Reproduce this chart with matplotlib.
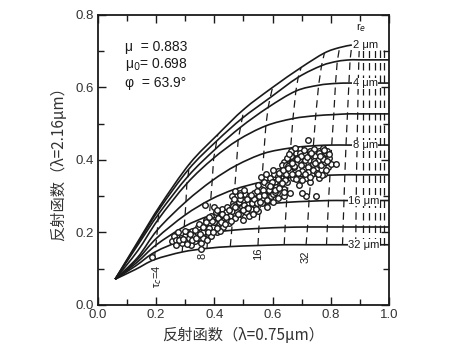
import matplotlib
matplotlib.use("Agg")
import matplotlib.pyplot as plt
from matplotlib.ticker import MultipleLocator
from matplotlib.path import Path
from matplotlib.patches import PathPatch

# ---------------- data ----------------
# effective radius of each constant-r_e curve (um)
re_values = [32, 24, 16, 12, 8, 6, 4, 3, 2]
# optical thickness of each column of grid nodes
tau_values = [0, 2, 4, 6, 8, 12, 16, 24, 32, 48, 64, 96]

# x: reflection function at 0.75 um, one row per r_e, one column per tau
grid_x = [
    [0.06, 0.130, 0.195, 0.290, 0.375, 0.455, 0.550, 0.640, 0.715, 0.785, 0.840, 0.885],
    [0.06, 0.131, 0.197, 0.293, 0.379, 0.460, 0.553, 0.643, 0.720, 0.788, 0.842, 0.886],
    [0.06, 0.133, 0.200, 0.297, 0.383, 0.465, 0.558, 0.648, 0.725, 0.792, 0.845, 0.887],
    [0.06, 0.135, 0.202, 0.300, 0.388, 0.470, 0.563, 0.655, 0.732, 0.797, 0.848, 0.888],
    [0.06, 0.137, 0.205, 0.303, 0.393, 0.476, 0.570, 0.662, 0.740, 0.803, 0.852, 0.890],
    [0.06, 0.138, 0.207, 0.306, 0.398, 0.482, 0.577, 0.670, 0.748, 0.810, 0.857, 0.892],
    [0.06, 0.140, 0.210, 0.310, 0.404, 0.490, 0.585, 0.680, 0.758, 0.816, 0.862, 0.894],
    [0.06, 0.141, 0.212, 0.313, 0.408, 0.496, 0.592, 0.688, 0.768, 0.822, 0.866, 0.896],
    [0.06, 0.142, 0.215, 0.316, 0.412, 0.502, 0.600, 0.698, 0.778, 0.830, 0.872, 0.898],
]
# y: reflection function at 2.16 um
grid_y = [
    [0.071, 0.098, 0.125, 0.146, 0.156, 0.161, 0.164, 0.166, 0.166, 0.166, 0.166, 0.166],
    [0.071, 0.108, 0.146, 0.179, 0.197, 0.206, 0.211, 0.214, 0.215, 0.215, 0.215, 0.215],
    [0.071, 0.116, 0.165, 0.216, 0.246, 0.264, 0.276, 0.283, 0.286, 0.288, 0.288, 0.288],
    [0.071, 0.124, 0.184, 0.248, 0.291, 0.319, 0.339, 0.351, 0.356, 0.358, 0.359, 0.359],
    [0.071, 0.131, 0.207, 0.285, 0.343, 0.385, 0.418, 0.433, 0.439, 0.441, 0.441, 0.441],
    [0.071, 0.150, 0.235, 0.335, 0.405, 0.455, 0.494, 0.514, 0.522, 0.525, 0.527, 0.527],
    [0.071, 0.168, 0.252, 0.355, 0.430, 0.490, 0.545, 0.590, 0.606, 0.611, 0.612, 0.612],
    [0.071, 0.175, 0.265, 0.375, 0.452, 0.515, 0.572, 0.628, 0.660, 0.672, 0.676, 0.676],
    [0.071, 0.180, 0.275, 0.390, 0.470, 0.540, 0.600, 0.655, 0.695, 0.710, 0.717, 0.717],
]
# additional near-vertical constant-tau lines of very thick clouds (x positions)
thick_tau_x = [0.910, 0.930, 0.950, 0.967, 0.982]

# observations (x = R0.75, y = R2.16)
obs_x = [
    0.185, 0.255, 0.262, 0.270, 0.275, 0.268, 0.290, 0.300, 0.305, 0.310, 0.315, 0.320,
    0.325, 0.330, 0.335, 0.340, 0.345, 0.350, 0.355, 0.368, 0.356, 0.285, 0.298,
    0.360, 0.365, 0.370, 0.375, 0.380, 0.385, 0.390, 0.395, 0.400, 0.405, 0.410, 0.415,
    0.420, 0.425, 0.430, 0.435, 0.440, 0.445, 0.450, 0.455, 0.360, 0.375, 0.390, 0.420,
    0.400, 0.372, 0.383, 0.398, 0.412, 0.428, 0.443,
    0.460, 0.465, 0.470, 0.475, 0.480, 0.485, 0.490, 0.495, 0.500, 0.505, 0.510, 0.515,
    0.520, 0.525, 0.530, 0.535, 0.540, 0.545, 0.550, 0.460, 0.470, 0.500, 0.520, 0.490,
    0.463, 0.478, 0.488, 0.503, 0.512, 0.528, 0.538, 0.548,
    0.555, 0.560, 0.565, 0.570, 0.575, 0.580, 0.585, 0.590, 0.595, 0.600, 0.605, 0.610,
    0.615, 0.620, 0.625, 0.630, 0.635, 0.640, 0.645, 0.650, 0.580, 0.600, 0.620, 0.640,
    0.660, 0.550, 0.568, 0.588, 0.598, 0.612, 0.628, 0.642, 0.618, 0.603,
    0.655, 0.660, 0.665, 0.670, 0.675, 0.680, 0.685, 0.690, 0.695, 0.700, 0.705, 0.710,
    0.715, 0.720, 0.725, 0.730, 0.735, 0.740, 0.745, 0.750, 0.755, 0.760, 0.765, 0.770,
    0.775, 0.780, 0.785, 0.790, 0.795, 0.800, 0.720, 0.818, 0.716, 0.750, 0.690, 0.700,
    0.730, 0.760, 0.640, 0.650, 0.668, 0.683, 0.698, 0.712, 0.728, 0.742, 0.758, 0.772,
    0.788, 0.662, 0.678, 0.693, 0.708, 0.722, 0.738, 0.752, 0.768, 0.782, 0.633, 0.647,
    0.280, 0.292, 0.308, 0.322, 0.338, 0.352, 0.318, 0.333, 0.347, 0.362, 0.378, 0.393,
    0.408, 0.423, 0.437, 0.452, 0.382, 0.396, 0.411, 0.426, 0.440, 0.456, 0.467, 0.482,
    0.497, 0.513, 0.527, 0.542, 0.472, 0.487, 0.502, 0.517, 0.532, 0.547, 0.557, 0.572,
    0.587, 0.602, 0.617, 0.632, 0.562, 0.577, 0.592, 0.607, 0.622, 0.637, 0.652, 0.667,
    0.682, 0.697, 0.712, 0.727, 0.742, 0.757, 0.772, 0.787, 0.657, 0.672, 0.687, 0.702,
    0.717, 0.732, 0.747, 0.762, 0.777, 0.792, 0.608, 0.623, 0.638, 0.653, 0.668, 0.683,
]
obs_y = [
    0.133, 0.175, 0.190, 0.180, 0.200, 0.165, 0.170, 0.190, 0.175, 0.200, 0.185, 0.165,
    0.205, 0.190, 0.175, 0.200, 0.215, 0.185, 0.170, 0.276, 0.155, 0.185, 0.205,
    0.200, 0.220, 0.235, 0.210, 0.195, 0.225, 0.245, 0.215, 0.235, 0.255, 0.200, 0.225,
    0.245, 0.265, 0.215, 0.235, 0.255, 0.270, 0.225, 0.245, 0.185, 0.180, 0.190, 0.205,
    0.270, 0.228, 0.212, 0.228, 0.240, 0.250, 0.238,
    0.260, 0.280, 0.240, 0.300, 0.265, 0.285, 0.250, 0.270, 0.290, 0.305, 0.255, 0.280,
    0.300, 0.265, 0.290, 0.310, 0.275, 0.295, 0.260, 0.300, 0.315, 0.235, 0.245, 0.310,
    0.272, 0.255, 0.292, 0.275, 0.268, 0.280, 0.292, 0.282,
    0.300, 0.320, 0.280, 0.340, 0.310, 0.290, 0.330, 0.350, 0.300, 0.320, 0.360, 0.340,
    0.310, 0.370, 0.330, 0.350, 0.380, 0.320, 0.360, 0.340, 0.270, 0.285, 0.295, 0.300,
    0.310, 0.330, 0.318, 0.315, 0.338, 0.325, 0.342, 0.345, 0.355, 0.372,
    0.390, 0.370, 0.410, 0.350, 0.380, 0.420, 0.360, 0.400, 0.430, 0.370, 0.390, 0.415,
    0.350, 0.380, 0.400, 0.425, 0.360, 0.390, 0.410, 0.375, 0.400, 0.425, 0.385, 0.410,
    0.360, 0.395, 0.420, 0.380, 0.405, 0.390, 0.455, 0.388, 0.300, 0.300, 0.330, 0.310,
    0.340, 0.350, 0.395, 0.405, 0.395, 0.405, 0.385, 0.400, 0.415, 0.430, 0.418, 0.432,
    0.425, 0.425, 0.432, 0.418, 0.428, 0.368, 0.372, 0.365, 0.358, 0.372, 0.385, 0.385,
    0.178, 0.182, 0.168, 0.178, 0.185, 0.195, 0.195, 0.208, 0.222, 0.215, 0.202, 0.232,
    0.212, 0.228, 0.222, 0.262, 0.242, 0.202, 0.262, 0.252, 0.242, 0.232, 0.292, 0.252,
    0.262, 0.292, 0.302, 0.265, 0.270, 0.302, 0.318, 0.268, 0.252, 0.315, 0.285, 0.302,
    0.318, 0.305, 0.348, 0.335, 0.352, 0.362, 0.328, 0.312, 0.365, 0.372, 0.382, 0.362,
    0.348, 0.412, 0.362, 0.352, 0.398, 0.362, 0.402, 0.398, 0.415, 0.382, 0.365, 0.345,
    0.408, 0.418, 0.392, 0.412, 0.428, 0.415, 0.318, 0.322, 0.312, 0.378, 0.392, 0.402,
]

param_lines = ["μ  = 0.883", "μ$_0$= 0.698", "φ  = 63.9°"]
re_labels = {2: "2 μm", 4: "4 μm", 8: "8 μm", 16: "16 μm", 32: "32 μm"}
tau_labels = {4: "τ$_c$=4", 8: "8", 16: "16", 32: "32"}

# ---------------- figure ----------------
plt.rcParams['font.family'] = ['Liberation Sans', 'DejaVu Sans']
fig = plt.figure(figsize=(4.74, 3.55), dpi=100)
ax = fig.add_axes([0.206, 0.141, 0.615, 0.817])
ax.set_xlim(0, 1.0)
ax.set_ylim(0, 0.8)

lc = '#1a1a1a'


def smooth_path(xs, ys):
    """Cubic Bezier path through the given nodes (Catmull-Rom tangents)."""
    pts = list(zip(xs, ys))
    verts = [pts[0]]
    codes = [Path.MOVETO]
    n = len(pts)
    for k in range(n - 1):
        p0 = pts[k - 1] if k > 0 else pts[k]
        p1 = pts[k]
        p2 = pts[k + 1]
        p3 = pts[k + 2] if k + 2 < n else pts[k + 1]
        c1 = (p1[0] + (p2[0] - p0[0]) / 6.0, p1[1] + (p2[1] - p0[1]) / 6.0)
        c2 = (p2[0] - (p3[0] - p1[0]) / 6.0, p2[1] - (p3[1] - p1[1]) / 6.0)
        verts += [c1, c2, p2]
        codes += [Path.CURVE4] * 3
    return Path(verts, codes)


# constant r_e curves (solid), extend horizontally to the right edge
for i, re in enumerate(re_values):
    xs = list(grid_x[i])
    ys = list(grid_y[i])
    if re == 2:
        xs = xs[:-1]
        ys = ys[:-1]
    else:
        xs = xs + [1.0]
        ys = ys + [ys[-1]]
    ax.add_patch(PathPatch(smooth_path(xs, ys), fc='none', ec=lc, lw=1.2, zorder=3))

# constant tau lines (dashed)
for j, tau in enumerate(tau_values):
    if tau < 4:
        continue
    xs = [grid_x[i][j] for i in range(len(re_values))]
    ys = [grid_y[i][j] for i in range(len(re_values))]
    ax.plot(xs, ys, color=lc, lw=0.9, ls=(0, (6, 4)), zorder=2)
top_y = grid_y[-1][-1]
bot_y = grid_y[0][-1]
for xv in thick_tau_x:
    ax.plot([xv, xv], [bot_y, top_y], color=lc, lw=0.9, ls=(0, (6, 4)), zorder=2)

# observations
ax.scatter(obs_x, obs_y, s=16, facecolors='white', edgecolors=lc, linewidths=1.0, zorder=4)

# annotations
for k, t in enumerate(param_lines):
    ax.text(0.095, 0.712 - 0.05 * k, t, fontsize=10, va='center', ha='left', color=lc)
ax.text(0.885, 0.766, "r$_e$", fontsize=8, ha='left', va='center', color=lc)
re_label_x = {2: 0.875, 4: 0.875, 8: 0.875, 16: 0.86, 32: 0.86}
for i, re in enumerate(re_values):
    if re in re_labels:
        ax.text(re_label_x[re], grid_y[i][-1], re_labels[re], fontsize=8, ha='left', va='center',
                color=lc, zorder=5,
                bbox=dict(boxstyle='square,pad=0.05', fc='white', ec='none'))
tau_label_pos = {4: (0.205, 0.08), 8: (0.361, 0.135), 16: (0.549, 0.142), 32: (0.714, 0.134)}
for tau, lab in tau_labels.items():
    px, py = tau_label_pos[tau]
    ax.text(px, py, lab, fontsize=8, rotation=90, ha='center', va='center', color=lc)

# axes styling
ax.xaxis.set_major_locator(MultipleLocator(0.2))
ax.xaxis.set_minor_locator(MultipleLocator(0.1))
ax.yaxis.set_major_locator(MultipleLocator(0.2))
ax.yaxis.set_minor_locator(MultipleLocator(0.1))
ax.tick_params(which='both', direction='in', top=True, right=True, color=lc, width=1.0)
ax.tick_params(which='major', length=6, labelsize=9.5, labelcolor='#333333', pad=3)
ax.tick_params(which='minor', length=4)
ax.set_xticklabels([f"{v:.1f}" for v in ax.get_xticks()])
ax.set_yticklabels([f"{v:.1f}" for v in ax.get_yticks()])
for sp in ax.spines.values():
    sp.set_linewidth(1.3)
    sp.set_color(lc)

cjk = ['Noto Sans CJK SC', 'DejaVu Sans']
ax.set_xlabel("反射函数（λ=0.75μm）", fontsize=11, family=cjk, color='#333333', labelpad=4)
ax.set_ylabel("反射函数（λ=2.16μm）", fontsize=11, family=cjk, color='#333333', labelpad=6)

fig.savefig("out.png", dpi=100)
